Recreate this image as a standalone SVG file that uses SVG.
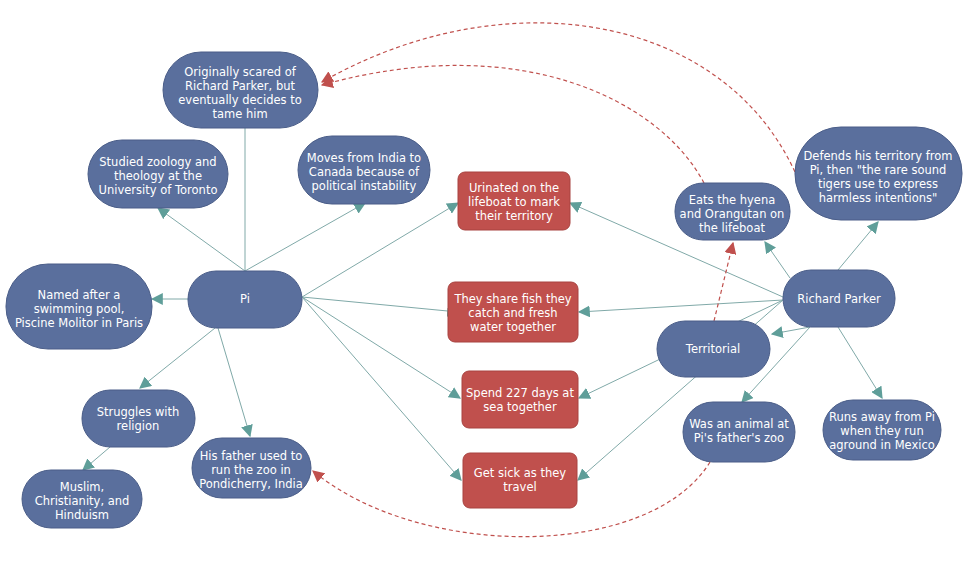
<svg xmlns="http://www.w3.org/2000/svg" width="975" height="562" viewBox="0 0 975 562">
<style>
.b{fill:#5a6f9d;stroke:#4a5d88;stroke-width:1}
.r{fill:#c0504d;stroke:#a84340;stroke-width:1}
text{font-family:"DejaVu Sans",Verdana,sans-serif;font-size:11.5px;fill:#fff;text-anchor:middle}
.c line{stroke:#80a9a8;stroke-width:1}
.d path{fill:none;stroke:#c0504d;stroke-width:1.2;stroke-dasharray:4,3}
</style>
<defs>
<marker id="a" viewBox="0 0 10 10" refX="9" refY="5" markerWidth="12" markerHeight="12" markerUnits="userSpaceOnUse" orient="auto"><path d="M0,0L10,5L0,10z" fill="#5f9e99"/></marker>
<marker id="ra" viewBox="0 0 10 10" refX="9" refY="5" markerWidth="12" markerHeight="12" markerUnits="userSpaceOnUse" orient="auto"><path d="M0,0L10,5L0,10z" fill="#c0504d"/></marker>
</defs>
<rect width="975" height="562" fill="#fff"/>
<g class="c">
<line x1="245" y1="271" x2="245" y2="128"/>
<line x1="245" y1="271" x2="158" y2="208" marker-end="url(#a)"/>
<line x1="245" y1="271" x2="365" y2="203" marker-end="url(#a)"/>
<line x1="188" y1="299" x2="152" y2="299" marker-end="url(#a)"/>
<line x1="215" y1="328" x2="140" y2="388" marker-end="url(#a)"/>
<line x1="218" y1="328" x2="250" y2="436" marker-end="url(#a)"/>
<line x1="110" y1="447" x2="83" y2="470" marker-end="url(#a)"/>
<line x1="302" y1="297" x2="458" y2="203" marker-end="url(#a)"/>
<line x1="302" y1="297" x2="458" y2="312" marker-end="url(#a)"/>
<line x1="302" y1="297" x2="460" y2="398" marker-end="url(#a)"/>
<line x1="302" y1="297" x2="461" y2="480" marker-end="url(#a)"/>
<line x1="783" y1="297" x2="570" y2="203" marker-end="url(#a)"/>
<line x1="783" y1="300" x2="579" y2="312" marker-end="url(#a)"/>
<line x1="783" y1="300" x2="579" y2="398" marker-end="url(#a)"/>
<line x1="783" y1="300" x2="578" y2="480" marker-end="url(#a)"/>
<line x1="790" y1="278" x2="765" y2="242" marker-end="url(#a)"/>
<line x1="838" y1="270" x2="878" y2="222" marker-end="url(#a)"/>
<line x1="810" y1="327" x2="772" y2="334" marker-end="url(#a)"/>
<line x1="810" y1="327" x2="742" y2="402" marker-end="url(#a)"/>
<line x1="838" y1="327" x2="882" y2="398" marker-end="url(#a)"/>
</g>
<g class="d">
<path d="M714,321 L733,243" marker-end="url(#ra)"/>
<path d="M704,183 C660,100 520,30 322,85" marker-end="url(#ra)"/>
<path d="M795,172 C720,10 500,-20 322,82" marker-end="url(#ra)"/>
<path d="M710,462 C650,560 420,560 313,471" marker-end="url(#ra)"/>
</g>
<g id="n1"><rect class="b" x="163" y="52" width="155" height="76" rx="38"/><text x="240" y="76">Originally scared of</text><text x="240" y="90">Richard Parker, but</text><text x="240" y="104">eventually decides to</text><text x="240" y="118">tame him</text></g>
<g id="n2"><rect class="b" x="88" y="140" width="140" height="68" rx="34"/><text x="158" y="166">Studied zoology and</text><text x="158" y="180">theology at the</text><text x="158" y="194">University of Toronto</text></g>
<g id="n3"><rect class="b" x="298" y="136" width="132" height="68" rx="34"/><text x="364" y="162">Moves from India to</text><text x="364" y="176">Canada because of</text><text x="364" y="190">political instability</text></g>
<g id="pi"><rect class="b" x="188" y="271" width="114" height="57" rx="28"/><text x="245" y="303">Pi</text></g>
<g id="n4"><rect class="b" x="6" y="264" width="146" height="85" rx="42"/><text x="79" y="299">Named after a</text><text x="79" y="313">swimming pool,</text><text x="79" y="327">Piscine Molitor in Paris</text></g>
<g id="n5"><rect class="b" x="82" y="390" width="113" height="57" rx="28"/><text x="138" y="416">Struggles with</text><text x="138" y="430">religion</text></g>
<g id="n6"><rect class="b" x="22" y="470" width="120" height="58" rx="29"/><text x="82" y="491">Muslim,</text><text x="82" y="505">Christianity, and</text><text x="82" y="519">Hinduism</text></g>
<g id="n7"><rect class="b" x="192" y="438" width="119" height="60" rx="30"/><text x="251" y="460">His father used to</text><text x="251" y="474">run the zoo in</text><text x="251" y="488">Pondicherry, India</text></g>
<g id="r1"><rect class="r" x="458" y="172" width="112" height="58" rx="7"/><text x="514" y="192">Urinated on the</text><text x="514" y="206">lifeboat to mark</text><text x="514" y="220">their territory</text></g>
<g id="r2"><rect class="r" x="448" y="282" width="130" height="60" rx="7"/><text x="513" y="303">They share fish they</text><text x="513" y="317">catch and fresh</text><text x="513" y="331">water together</text></g>
<g id="r3"><rect class="r" x="462" y="371" width="116" height="57" rx="7"/><text x="520" y="397">Spend 227 days at</text><text x="520" y="411">sea together</text></g>
<g id="r4"><rect class="r" x="463" y="453" width="114" height="55" rx="7"/><text x="520" y="477">Get sick as they</text><text x="520" y="491">travel</text></g>
<g id="n8"><rect class="b" x="675" y="183" width="115" height="57" rx="28"/><text x="732" y="204">Eats the hyena</text><text x="732" y="218">and Orangutan on</text><text x="732" y="232">the lifeboat</text></g>
<g id="n9"><rect class="b" x="795" y="127" width="167" height="93" rx="46"/><text x="878" y="160">Defends his territory from</text><text x="878" y="174">Pi, then "the rare sound</text><text x="878" y="188">tigers use to express</text><text x="878" y="202">harmless intentions"</text></g>
<g id="rp"><rect class="b" x="783" y="270" width="112" height="57" rx="28"/><text x="839" y="303">Richard Parker</text></g>
<g id="n10"><rect class="b" x="657" y="321" width="113" height="56" rx="28"/><text x="713" y="353">Territorial</text></g>
<g id="n11"><rect class="b" x="683" y="402" width="112" height="60" rx="30"/><text x="739" y="428">Was an animal at</text><text x="739" y="442">Pi's father's zoo</text></g>
<g id="n12"><rect class="b" x="823" y="400" width="118" height="60" rx="30"/><text x="882" y="421">Runs away from Pi</text><text x="882" y="435">when they run</text><text x="882" y="449">aground in Mexico</text></g>
</svg>
